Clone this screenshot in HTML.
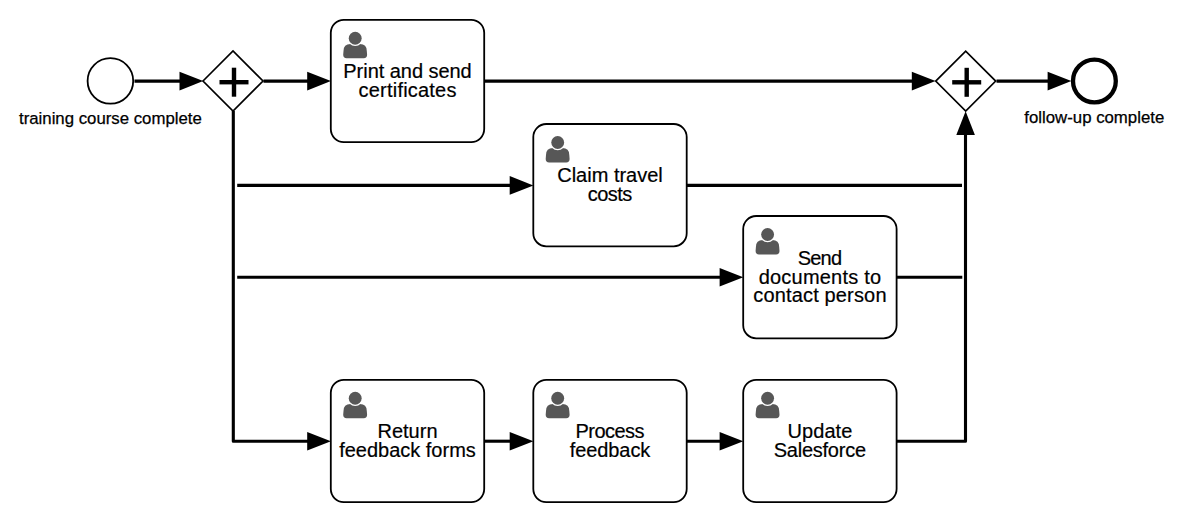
<!DOCTYPE html>
<html><head><meta charset="utf-8"><style>
html,body{margin:0;padding:0;background:#fff;}
svg{display:block;}
.t{font-family:"Liberation Sans",sans-serif;font-size:20px;text-anchor:middle;fill:#000;stroke:#000;stroke-width:0.2px;}
.l{font-family:"Liberation Sans",sans-serif;font-size:16.8px;text-anchor:middle;fill:#000;stroke:#000;stroke-width:0.25px;}
</style></head><body>
<svg width="1200" height="521" viewBox="0 0 1200 521">
<rect width="1200" height="521" fill="#fff"/>
<path d="M134.5,81.1 L185.0,81.1" fill="none" stroke="#000" stroke-width="3.1" stroke-linejoin="round"/>
<path d="M203.2,81.1 L179.5,71.8 L179.5,90.4 Z" fill="#000"/>
<path d="M263.5,81.1 L312.0,81.1" fill="none" stroke="#000" stroke-width="3.1" stroke-linejoin="round"/>
<path d="M330.9,81.1 L307.2,71.8 L307.2,90.4 Z" fill="#000"/>
<path d="M484.5,81.1 L915.0,81.1" fill="none" stroke="#000" stroke-width="3.1" stroke-linejoin="round"/>
<path d="M935.5,81.1 L911.8,71.8 L911.8,90.4 Z" fill="#000"/>
<path d="M996.5,81.1 L1052.0,81.1" fill="none" stroke="#000" stroke-width="3.1" stroke-linejoin="round"/>
<path d="M1071.3,81.1 L1047.6,71.8 L1047.6,90.4 Z" fill="#000"/>
<path d="M233.3,111.0 L233.3,441.2 L310.0,441.2" fill="none" stroke="#000" stroke-width="3.1" stroke-linejoin="round"/>
<path d="M330.9,441.2 L307.2,431.9 L307.2,450.5 Z" fill="#000"/>
<path d="M237.2,185.4 L515.0,185.4" fill="none" stroke="#000" stroke-width="3.1" stroke-linejoin="round"/>
<path d="M533.4,185.4 L509.7,176.1 L509.7,194.7 Z" fill="#000"/>
<path d="M237.2,277.3 L725.0,277.3" fill="none" stroke="#000" stroke-width="3.1" stroke-linejoin="round"/>
<path d="M743.3,277.3 L719.6,268.0 L719.6,286.6 Z" fill="#000"/>
<path d="M484.5,441.2 L512.0,441.2" fill="none" stroke="#000" stroke-width="3.1" stroke-linejoin="round"/>
<path d="M533.4,441.2 L509.7,431.9 L509.7,450.5 Z" fill="#000"/>
<path d="M687.0,441.2 L722.0,441.2" fill="none" stroke="#000" stroke-width="3.1" stroke-linejoin="round"/>
<path d="M743.3,441.2 L719.6,431.9 L719.6,450.5 Z" fill="#000"/>
<path d="M687.0,185.4 L962.0,185.4" fill="none" stroke="#000" stroke-width="3.1" stroke-linejoin="round"/>
<path d="M897.0,277.3 L962.3,277.3" fill="none" stroke="#000" stroke-width="3.1" stroke-linejoin="round"/>
<path d="M897.0,441.2 L965.5,441.2 L965.5,130.0" fill="none" stroke="#000" stroke-width="3.1" stroke-linejoin="round"/>
<path d="M965.6,111.2 L956.3,134.9 L974.9,134.9 Z" fill="#000"/>
<circle cx="110.4" cy="80.9" r="22.8" fill="#fff" stroke="#000" stroke-width="1.8"/>
<circle cx="1094.4" cy="81.0" r="21.4" fill="#fff" stroke="#000" stroke-width="4.3"/>
<path d="M203.0,81.0 L233.0,51.0 L263.0,81.0 L233.0,111.0 Z" fill="#fff" stroke="#000" stroke-width="1.7" stroke-linejoin="miter"/><rect x="219.50" y="80.00" width="29.00" height="4.40" fill="#000"/><rect x="231.80" y="67.70" width="4.40" height="29.00" fill="#000"/>
<path d="M935.7,81.1 L965.7,51.1 L995.7,81.1 L965.7,111.1 Z" fill="#fff" stroke="#000" stroke-width="1.7" stroke-linejoin="miter"/><rect x="952.20" y="80.10" width="29.00" height="4.40" fill="#000"/><rect x="964.50" y="67.80" width="4.40" height="29.00" fill="#000"/>
<rect x="330.8" y="19.8" width="153.4" height="122.3" rx="13" ry="13" fill="#fff" stroke="#000" stroke-width="1.8"/>
<path d="M343.20,54.80 L343.50,50.90 Q343.50,43.90 350.50,43.90 L359.80,43.90 Q366.80,43.90 366.80,50.90 L367.10,54.80 Q367.10,58.20 363.70,58.20 L346.60,58.20 Q343.20,58.20 343.20,54.80 Z" fill="#575757"/><circle cx="355.20" cy="38.25" r="7.75" fill="#fff"/><circle cx="355.20" cy="38.25" r="6.45" fill="#575757"/>
<text x="407.5" y="77.9" class="t" textLength="128.38" lengthAdjust="spacing">Print and send</text>
<text x="407.5" y="96.5" class="t" textLength="97.79" lengthAdjust="spacing">certificates</text>
<rect x="533.3" y="124.0" width="153.4" height="122.3" rx="13" ry="13" fill="#fff" stroke="#000" stroke-width="1.8"/>
<path d="M545.70,159.00 L546.00,155.10 Q546.00,148.10 553.00,148.10 L562.30,148.10 Q569.30,148.10 569.30,155.10 L569.60,159.00 Q569.60,162.40 566.20,162.40 L549.10,162.40 Q545.70,162.40 545.70,159.00 Z" fill="#575757"/><circle cx="557.70" cy="142.45" r="7.75" fill="#fff"/><circle cx="557.70" cy="142.45" r="6.45" fill="#575757"/>
<text x="610.0" y="182.4" class="t" textLength="105.58" lengthAdjust="spacing">Claim travel</text>
<text x="610.0" y="201.0" class="t" textLength="44.69" lengthAdjust="spacing">costs</text>
<rect x="743.2" y="216.0" width="153.4" height="122.3" rx="13" ry="13" fill="#fff" stroke="#000" stroke-width="1.8"/>
<path d="M755.60,251.00 L755.90,247.10 Q755.90,240.10 762.90,240.10 L772.20,240.10 Q779.20,240.10 779.20,247.10 L779.50,251.00 Q779.50,254.40 776.10,254.40 L759.00,254.40 Q755.60,254.40 755.60,251.00 Z" fill="#575757"/><circle cx="767.60" cy="234.45" r="7.75" fill="#fff"/><circle cx="767.60" cy="234.45" r="6.45" fill="#575757"/>
<text x="819.9" y="265.4" class="t" textLength="44.32" lengthAdjust="spacing">Send</text>
<text x="819.9" y="283.5" class="t" textLength="122.38" lengthAdjust="spacing">documents to</text>
<text x="819.9" y="301.6" class="t" textLength="133.20" lengthAdjust="spacing">contact person</text>
<rect x="330.8" y="379.8" width="153.4" height="122.3" rx="13" ry="13" fill="#fff" stroke="#000" stroke-width="1.8"/>
<path d="M343.20,414.80 L343.50,410.90 Q343.50,403.90 350.50,403.90 L359.80,403.90 Q366.80,403.90 366.80,410.90 L367.10,414.80 Q367.10,418.20 363.70,418.20 L346.60,418.20 Q343.20,418.20 343.20,414.80 Z" fill="#575757"/><circle cx="355.20" cy="398.25" r="7.75" fill="#fff"/><circle cx="355.20" cy="398.25" r="6.45" fill="#575757"/>
<text x="407.5" y="438.3" class="t" textLength="60.18" lengthAdjust="spacing">Return</text>
<text x="407.5" y="456.6" class="t" textLength="136.58" lengthAdjust="spacing">feedback forms</text>
<rect x="533.3" y="379.8" width="153.4" height="122.3" rx="13" ry="13" fill="#fff" stroke="#000" stroke-width="1.8"/>
<path d="M545.70,414.80 L546.00,410.90 Q546.00,403.90 553.00,403.90 L562.30,403.90 Q569.30,403.90 569.30,410.90 L569.60,414.80 Q569.60,418.20 566.20,418.20 L549.10,418.20 Q545.70,418.20 545.70,414.80 Z" fill="#575757"/><circle cx="557.70" cy="398.25" r="7.75" fill="#fff"/><circle cx="557.70" cy="398.25" r="6.45" fill="#575757"/>
<text x="610.0" y="438.3" class="t" textLength="69.15" lengthAdjust="spacing">Process</text>
<text x="610.0" y="456.6" class="t" textLength="80.67" lengthAdjust="spacing">feedback</text>
<rect x="743.2" y="379.8" width="153.4" height="122.3" rx="13" ry="13" fill="#fff" stroke="#000" stroke-width="1.8"/>
<path d="M755.60,414.80 L755.90,410.90 Q755.90,403.90 762.90,403.90 L772.20,403.90 Q779.20,403.90 779.20,410.90 L779.50,414.80 Q779.50,418.20 776.10,418.20 L759.00,418.20 Q755.60,418.20 755.60,414.80 Z" fill="#575757"/><circle cx="767.60" cy="398.25" r="7.75" fill="#fff"/><circle cx="767.60" cy="398.25" r="6.45" fill="#575757"/>
<text x="819.9" y="438.3" class="t" textLength="65.00" lengthAdjust="spacing">Update</text>
<text x="819.9" y="456.6" class="t" textLength="92.30" lengthAdjust="spacing">Salesforce</text>
<text x="110.4" y="124.2" class="l">training course complete</text>
<text x="1094.3" y="122.6" class="l">follow-up complete</text>
</svg>
</body></html>
